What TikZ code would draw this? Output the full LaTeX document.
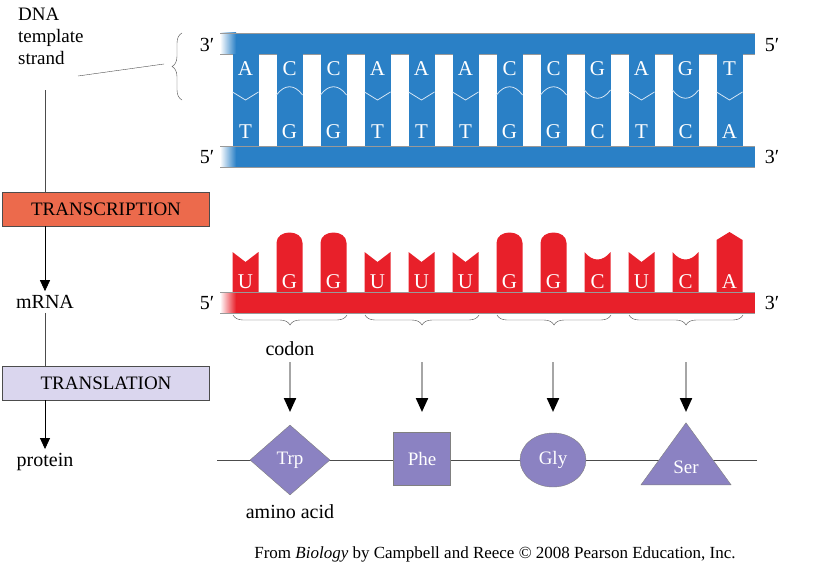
\documentclass[tikz,border=0pt]{standalone}
\usepackage{fontspec}
\setmainfont{Liberation Serif}
\usetikzlibrary{shapes.geometric,decorations.pathreplacing,arrows.meta}
\definecolor{dblue}{HTML}{2A80C6}
\definecolor{dred}{HTML}{E8202A}
\definecolor{aa}{HTML}{8B82C2}
\definecolor{salmon}{HTML}{EC6A4C}
\definecolor{lav}{HTML}{DAD6EE}
\begin{document}
\begin{tikzpicture}[x=1pt,y=-1pt,
  lbl/.style={font=\fontsize{20}{22}\selectfont,inner sep=0},
  base/.style={font=\fontsize{21}{23}\selectfont,text=white,inner sep=0},
  box/.style={draw=black!70,minimum width=207,minimum height=34,font=\fontsize{19}{21}\selectfont,inner sep=0},
  arr/.style={-{Triangle[length=11,width=10]},line width=0.8},
  garr/.style={draw=black!35,line width=2.2,-{Triangle[length=14,width=12,fill=black,color=black]}},
  amino/.style={fill=aa,draw=black!50,text=white,font=\fontsize{19}{21}\selectfont,inner sep=0},
  brc/.style={draw=black!70,decorate,decoration={brace,amplitude=10}}]
\useasboundingbox (0,0) rectangle (821,586);
% DNA strands
\foreach \y in {33,146}{
  \shade[left color=white,right color=dblue] (220,\y) rectangle (236,\y+21);
  \fill[dblue] (236,\y) rectangle (755,\y+21);
  \draw[black!40] (220,\y) -- (755,\y) (220,\y+21) -- (755,\y+21);}
\def\tops{{"A","C","C","A","A","A","C","C","G","A","G","T"}}
\def\bots{{"T","G","G","T","T","T","G","G","C","T","C","A"}}
\def\rnas{{"U","G","G","U","U","U","G","G","C","U","C","A"}}
\foreach \i in {0,...,11}{
  \pgfmathsetmacro\cx{245.5+44*\i}
  \pgfmathsetmacro\t{\tops[\i]}
  \pgfmathsetmacro\b{\bots[\i]}
  \pgfmathsetmacro\r{\rnas[\i]}
  \fill[dblue] (\cx-13,54) rectangle (\cx+13,146);
  \node[base] (t\i) at (\cx,69) {\t};
  \node[base] (b\i) at (\cx,132) {\b};
  \ifnum\pdfstrcmp{\t}{A}=0 \draw[white!80!dblue,line width=0.8] (\cx-13,92) -- (\cx,100) -- (\cx+13,92);\fi
  \ifnum\pdfstrcmp{\t}{T}=0 \draw[white!80!dblue,line width=0.8] (\cx-13,92) -- (\cx,100) -- (\cx+13,92);\fi
  \ifnum\pdfstrcmp{\t}{C}=0 \draw[white!80!dblue,line width=0.8] (\cx-13,95) .. controls (\cx-5,84) and (\cx+5,84) .. (\cx+13,95);\fi
  \ifnum\pdfstrcmp{\t}{G}=0 \draw[white!80!dblue,line width=0.8] (\cx-13,90) .. controls (\cx-5,101) and (\cx+5,101) .. (\cx+13,90);\fi
  % mRNA nucleotides
  \ifnum\pdfstrcmp{\r}{U}=0 \fill[dred] (\cx-13,313) -- (\cx-13,252) -- (\cx,262) -- (\cx+13,252) -- (\cx+13,313) -- cycle;\fi
  \ifnum\pdfstrcmp{\r}{C}=0 \fill[dred] (\cx-13,313) -- (\cx-13,252) .. controls (\cx-5,262) and (\cx+5,262) .. (\cx+13,252) -- (\cx+13,313) -- cycle;\fi
  \ifnum\pdfstrcmp{\r}{G}=0 \fill[dred] (\cx-13,313) -- (\cx-13,243) .. controls (\cx-13,229) and (\cx+13,229) .. (\cx+13,243) -- (\cx+13,313) -- cycle;\fi
  \ifnum\pdfstrcmp{\r}{A}=0 \fill[dred] (\cx-13,313) -- (\cx-13,240) -- (\cx,232) -- (\cx+13,240) -- (\cx+13,313) -- cycle;\fi
  \node[base] (r\i) at (\cx,282) {\r};
}
% mRNA strand
\shade[left color=white,right color=dred] (220,292) rectangle (236,313);
\fill[dred] (236,292) rectangle (755,313);
\draw[black!40] (220,292) -- (755,292) (220,313) -- (755,313);
% end labels
\node[lbl] (p1) at (207,45) {3′};
\node[lbl] (p2) at (772,45) {5′};
\node[lbl] (p3) at (207,157) {5′};
\node[lbl] (p4) at (772,157) {3′};
\node[lbl] (p5) at (207,303) {5′};
\node[lbl] (p6) at (772,303) {3′};
% codon braces
\foreach \a in {233,365,497,629}{
  \draw[brc] (\a+114,315) -- (\a,315);
}
\node[lbl] (codon) at (290,349) {codon};
% protein
\coordinate (pl) at (217,460);
\coordinate (pr) at (757,460);
\draw[black!70,line width=1] (pl) -- (pr);
\node[amino,diamond,minimum width=80,minimum height=70] (trp) at (290,460) {Trp};
\node[amino,rectangle,minimum width=57,minimum height=53] (phe) at (422,459) {Phe};
\node[amino,ellipse,minimum width=66,minimum height=54] (gly) at (553,460) {Gly};
\node[amino,isosceles triangle,shape border rotate=90,isosceles triangle apex angle=72,minimum height=62,anchor=south] (ser) at (686,485) {\raisebox{-14pt}{Ser}};
\foreach \n/\x in {trp/290,phe/422,gly/553,ser/686}{
  \coordinate (s\n) at (\x,362);
  \draw[garr] (s\n) -- (\x,412);
}
\node[lbl] (aa) at (290,512) {amino acid};
% left side
\node[lbl,align=left,anchor=north west,font=\fontsize{19}{22}\selectfont] (dna) at (18,8) {DNA\\template\\strand};
\draw[brc,decoration={brace,amplitude=10}] (182,100) -- (182,33);
\coordinate (bt) at (164,64);
\draw[black!70] (78,76) -- (bt);
\node[box,fill=salmon] (tr) at (106,209) {TRANSCRIPTION};
\node[lbl] (mrna) at (45,302) {mRNA};
\node[box,fill=lav] (tl) at (106,383) {TRANSLATION};
\node[lbl] (prot) at (45,462) {protein};
\draw[black!70] (45,90) -- (tr.north -| 45,0);
\draw[arr] (tr.south -| 45,0) -- ([yshift=4]mrna.north);
\draw[black!70] ([yshift=-4]mrna.south) -- (tl.north -| 45,0);
\draw[arr] (tl.south -| 45,0) -- ([yshift=4]prot.north);
\node[font=\fontsize{17}{19}\selectfont,inner sep=0] (cr) at (495,554) {From \textit{Biology} by Campbell and Reece © 2008 Pearson Education, Inc.};
\end{tikzpicture}
\end{document}
